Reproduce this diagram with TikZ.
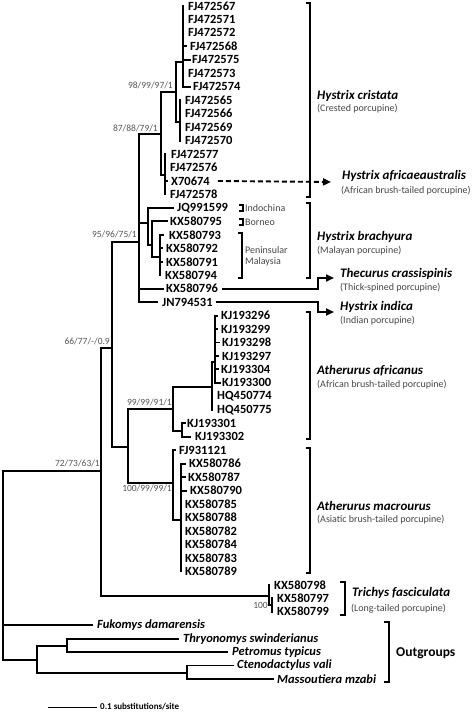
\documentclass[tikz,border=0pt]{standalone}
\usepackage{fontspec}
\setmainfont{Carlito}
\usetikzlibrary{arrows.meta}
\definecolor{bootgray}{RGB}{85,85,85}
\definecolor{notegray}{RGB}{70,70,70}

\begin{document}
\begin{tikzpicture}[x=1pt, y=-1pt,
  br/.style={line width=1.9pt, line cap=rect},
  brk/.style={line width=1.9pt},
  tip/.style={anchor=west, inner sep=0pt, font=\fontsize{12.5}{12}\selectfont\bfseries},
  tipit/.style={tip, font=\fontsize{12.5}{12}\selectfont\bfseries\itshape},
  boot/.style={anchor=east, inner sep=0pt, font=\fontsize{9.5}{10}\selectfont, text=bootgray},
  sp/.style={anchor=west, inner sep=0pt, font=\fontsize{13}{13}\selectfont\bfseries\itshape},
  cn/.style={anchor=west, inner sep=0pt, font=\fontsize{10}{11}\selectfont, text=notegray},
  arr/.style={-{Triangle[length=8pt,width=7pt]}, line width=1.9pt}
]
\useasboundingbox (0,0) rectangle (474,714);

% tips: label / branch end / text start
\foreach \lab/\bx/\tx [count=\i from 0] in {
  FJ472567/183/188, FJ472571/183/188, FJ472572/183/188, FJ472568/186/190,
  FJ472575/190/192, FJ472573/183/188, FJ472574/190/193, FJ472565/180/185,
  FJ472566/180/185, FJ472569/180/185, FJ472570/180/185, FJ472577/165/171,
  FJ472576/165/170, X70674/167/171, FJ472578/165/170, JQ991599/173/177,
  KX580795/167/170, KX580793/163/169, KX580792/162/166, KX580791/162/166,
  KX580794/160/165, KX580796/163/166, JN794531/157/162, KJ193296/217/221,
  KJ193299/217/221, KJ193298/219/222, KJ193297/218/222, KJ193304/218/221,
  KJ193300/220/222, HQ450774/212/217, HQ450775/212/217, KJ193301/185/187,
  KJ193302/190/195, FJ931121/175/179, KX580786/185/189, KX580787/185/188,
  KX580790/186/190, KX580785/181/185, KX580788/181/185, KX580782/181/185,
  KX580784/181/185, KX580783/181/185, KX580789/181/185, KX580798/269/274,
  KX580797/272/277, KX580799/272/277}{
  \pgfmathsetmacro\ty{6+13.46*\i}
  \coordinate (b\i) at (\bx,\ty);
  \node[tip] (t\i) at (\tx,\ty) {\lab};
}
\foreach \lab/\bx/\tx [count=\i from 46] in {
  Fukomys damarensis/92/97, Thryonomys swinderianus/178/183,
  Petromus typicus/227/232, Ctenodactylus vali/233/237,
  Massoutiera mzabi/273/277}{
  \pgfmathsetmacro\ty{6+13.46*\i}
  \coordinate (b\i) at (\bx,\ty);
  \node[tipit] (t\i) at (\tx,\ty) {\lab};
}

% internal nodes
\coordinate (nA1) at (183,62);
\coordinate (nA3) at (180,122);
\coordinate (nA) at (176,92);
\coordinate (nB) at (165,175);
\coordinate (nC) at (161,134);
\coordinate (nD) at (139,242);
\coordinate (nE) at (148,223);
\coordinate (nF) at (152,245);
\coordinate (nG) at (160,257);
\coordinate (nH) at (112,348);
\coordinate (nI) at (128,447);
\coordinate (nJ) at (173,409);
\coordinate (nL) at (212,387);
\coordinate (nN) at (215,362);
\coordinate (nM) at (182,431);
\coordinate (nK) at (173,483);
\coordinate (nO) at (181,520);
\coordinate (nP) at (101,471);
\coordinate (nQ) at (269,596);
\coordinate (nR) at (272,605);
\coordinate (nS) at (3,560);
\coordinate (nT) at (37,660);
\coordinate (nU) at (67,646);
\coordinate (nV) at (187,673);

\foreach \p/\c in {nA1/b0, nA1/b1, nA1/b2, nA1/b3, nA1/b4, nA1/b5, nA1/b6,
  nA3/b7, nA3/b8, nA3/b9, nA3/b10, nA/nA1, nA/nA3,
  nB/b11, nB/b12, nB/b13, nB/b14, nC/nA, nC/nB,
  nE/b15, nE/nF, nF/b16, nF/nG, nG/b17, nG/b18, nG/b19, nG/b20,
  nD/nC, nD/nE, nD/b21, nD/b22, nH/nD, nH/nI,
  nN/b23, nN/b24, nN/b25, nN/b26, nN/b27, nN/b28, nL/nN, nL/b29, nL/b30,
  nM/b31, nM/b32, nJ/nL, nJ/nM,
  nO/b34, nO/b35, nO/b36, nO/b37, nO/b38, nO/b39, nO/b40, nO/b41, nO/b42,
  nK/b33, nK/nO, nI/nJ, nI/nK,
  nR/b44, nR/b45, nQ/b43, nQ/nR, nP/nH, nP/nQ,
  nU/b47, nU/b48, nV/b49, nV/b50, nT/nU, nT/nV, nS/nP, nS/b46, nS/nT}
  \draw[br] (\p) |- (\c);

% support values
\node[boot] (bs98) at (173,85) {98/99/97/1};
\node[boot] (bs87) at (158,128) {87/88/79/1};
\node[boot] (bs95) at (137,234) {95/96/75/1};
\node[boot] (bs66) at (110,341) {66/77/-/0.9};
\node[boot] (bs72) at (100,463) {72/73/63/1};
\node[boot] (bs99) at (172,402) {99/99/91/1};
\node[boot] (bs100) at (172,488) {100/99/99/1};
\node[boot] (bs100t) at (268,605) {100};

% clade brackets
\draw[brk] (306,3) -- (310,3) -- (310,197) -- (306,197);
\draw[brk] (306,203) -- (310,203) -- (310,278) -- (306,278);
\draw[brk] (306,312) -- (310,312) -- (310,439) -- (306,439);
\draw[brk] (306,448) -- (310,448) -- (310,573) -- (306,573);
\draw[brk] (340,582) -- (345,582) -- (345,615) -- (340,615);
\draw[brk] (384,622) -- (389,622) -- (389,682) -- (384,682);
\draw[brk] (239,205) -- (243,205) -- (243,211) -- (239,211);
\draw[brk] (239,219) -- (243,219) -- (243,225) -- (239,225);
\draw[brk] (238,233) -- (242,233) -- (242,278) -- (238,278);

\node[cn] (indo) at (245,208) {Indochina};
\node[cn] (born) at (245,222) {Borneo};
\node[cn, align=left] (pen) at (245,256) {Peninsular\\Malaysia};

% species names
\node[sp] (hc) at (317,96) {Hystrix cristata};
\node[cn] (hcc) at (317,109) {(Crested porcupine)};
\node[sp] (ha) at (342,176) {Hystrix africaeaustralis};
\node[cn] (hac) at (341,191) {(African brush-tailed porcupine)};
\node[sp] (hb) at (317,237) {Hystrix brachyura};
\node[cn] (hbc) at (317,251) {(Malayan porcupine)};
\node[sp] (tc) at (340,274) {Thecurus crassispinis};
\node[cn] (tcc) at (340,288) {(Thick-spined porcupine)};
\node[sp] (hi) at (340,307) {Hystrix indica};
\node[cn] (hic) at (340,321) {(Indian porcupine)};
\node[sp] (aa) at (317,371) {Atherurus africanus};
\node[cn] (aac) at (317,385) {(African brush-tailed porcupine)};
\node[sp] (am) at (317,506) {Atherurus macrourus};
\node[cn] (amc) at (317,520) {(Asiatic brush-tailed porcupine)};
\node[sp] (tf) at (352,593) {Trichys fasciculata};
\node[cn] (tfc) at (351,609) {(Long-tailed porcupine)};
\node[anchor=west, inner sep=0pt, font=\fontsize{13.5}{14}\selectfont\bfseries] (og) at (396,653) {Outgroups};

% arrows to species
\coordinate (haE) at (331,182);
\coordinate (tcK) at (318,278);
\coordinate (tcE) at (334,278);
\coordinate (hiK) at (318,312);
\coordinate (hiE) at (334,312);
\draw[arr, dash pattern=on 5pt off 3pt] ([xshift=8pt]t13.east) -- (haE);
\draw[arr] ([xshift=4pt]t21.east) -| (tcK) -- (tcE);
\draw[arr] ([xshift=3pt]t22.east) -| (hiK) -- (hiE);

% scale bar
\coordinate (sc0) at (48,707);
\coordinate (sc1) at (97,707);
\draw[line width=0.9pt] (sc0) -- (sc1);
\node[anchor=west, inner sep=0pt, font=\fontsize{9}{9}\selectfont\bfseries] (scl) at (100,707) {0.1 substitutions/site};
\end{tikzpicture}
\end{document}
